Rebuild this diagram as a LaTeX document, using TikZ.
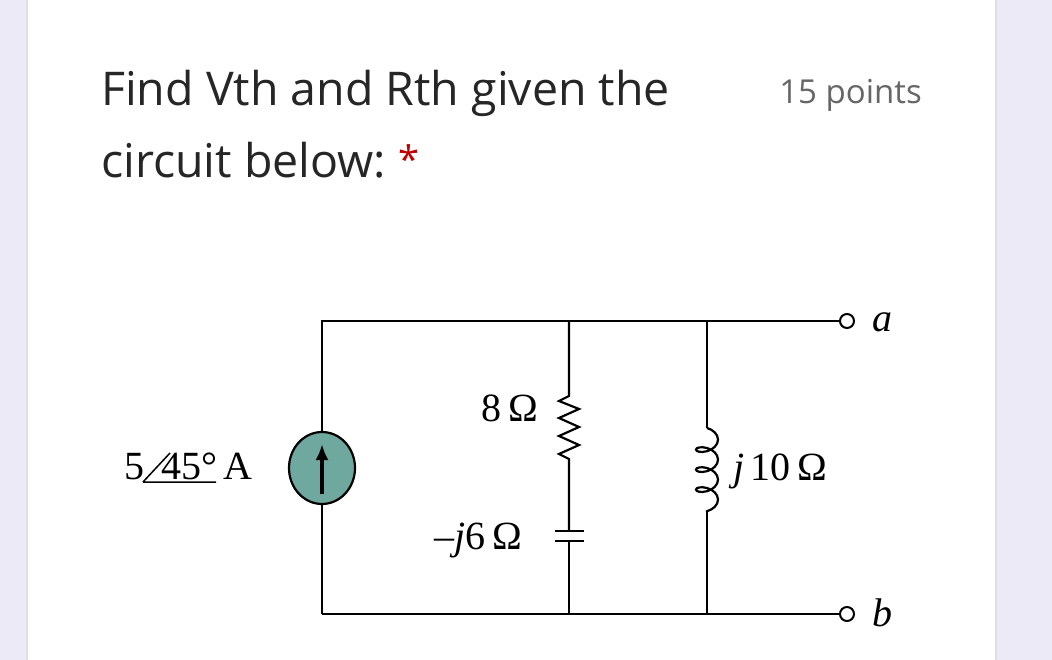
\documentclass[tikz,border=0pt]{standalone}
\usepackage{fontspec}
\setmainfont{Liberation Serif}
\newfontfamily\uifont{Open Sans}
\usetikzlibrary{decorations.pathmorphing,shapes.geometric,arrows.meta}
\definecolor{bgl}{HTML}{ECEAF7}
\definecolor{srcfill}{HTML}{6FA89E}
\tikzset{wire/.style={line width=2.2pt,black},
 term/.style={circle,draw,line width=2pt,fill=white,inner sep=0pt,minimum size=14pt},
 lab/.style={font=\fontsize{40}{44}\selectfont,inner sep=0pt}}
\begin{document}
\begin{tikzpicture}[x=1pt,y=-1pt]
\useasboundingbox (0,0) rectangle (1052,660);
\fill[bgl] (0,0) rectangle (1052,660);
\fill[white] (28,0) rectangle (995,660);
\draw[line width=1.5pt,gray!25] (27,0)--(27,660) (996,0)--(996,660);
\node[anchor=base west,inner sep=0pt,font=\uifont\fontsize{46.5}{50}\selectfont,text=black!85] (t1) at (101,106) {Find Vth and Rth given the};
\node[anchor=base west,inner sep=0pt,font=\uifont\fontsize{46.5}{50}\selectfont,text=black!85] (t2) at (101,178) {circuit below:\ \textcolor{red!75!black}{\fontsize{38}{40}\selectfont\raisebox{4pt}{*}}};
\node[anchor=base east,inner sep=0pt,font=\uifont\fontsize{33}{35}\selectfont,text=black!60] (pts) at (922,104) {15 points};
\coordinate (tl) at (322,321); \coordinate (bl) at (322,614);
\coordinate (tm) at (569,321); \coordinate (bm) at (569,614);
\coordinate (tr) at (707,321); \coordinate (br) at (707,614);
\node[term] (a) at (847,321) {};
\node[term] (b) at (847,614) {};
\node[draw,ellipse,line width=2.2pt,fill=srcfill,minimum width=66pt,minimum height=72pt,inner sep=0pt] (src) at (322,468) {};
\draw[wire] (bl)--(src.south); \draw[wire] (src.north)--(tl)--(a.west);
\draw[wire] (bl)--(b.west);
\draw[line width=3.5pt,-{Latex[length=16pt,width=13pt]}] (322,494)--(322,444);
\coordinate (r1) at (569,396); \coordinate (r2) at (569,459);
\draw[wire] (tm)--(r1) -- (559,401)--(579,409)--(559,418)--(579,427)--(559,436)--(579,445)--(559,454)--(r2)--(569,531);
\draw[wire] (555,531)--(584,531) (555,541)--(584,541);
\draw[wire] (569,541)--(bm);
\draw[wire] (tr)--(707,428);
\draw[wire,decorate,decoration={coil,segment length=20pt,amplitude=11pt,aspect=0.6,pre length=0pt,post length=0pt}] (707,428)--(707,512);
\draw[wire] (707,512)--(br);
\node[anchor=base west,inner sep=0pt,font=\itshape\fontsize{40}{44}\selectfont] (ja) at (872,331) {a};
\node[anchor=base west,inner sep=0pt,font=\itshape\fontsize{40}{44}\selectfont] (jb) at (872,626) {b};
\node[lab,anchor=base] (l8) at (510,421) {8\,Ω};
\node[lab,anchor=base east] (l6) at (522,549) {–\textit{j}6\,Ω};
\node[lab,anchor=base west] (l10) at (733,480) {\textit{j}\,10\,Ω};
\node[lab,anchor=base west] (l5) at (124,479) {5\hspace{17pt}45°\,A};
\draw[line width=1.5pt] (143,482)--(170,453) (143,482)--(216,482);
\end{tikzpicture}
\end{document}
